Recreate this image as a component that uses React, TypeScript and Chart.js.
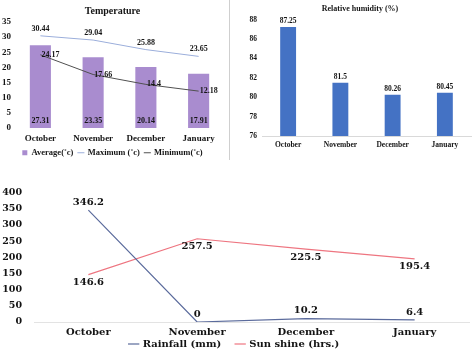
import React, { useEffect, useRef } from "react";
import { Chart, registerables } from "chart.js";
Chart.register(...registerables);

const months = ["October", "November", "December", "January"];
const tempAverage = [27.31, 23.35, 20.14, 17.91];
const tempMaximum = [30.44, 29.04, 25.88, 23.65];
const tempMinimum = [24.17, 17.66, 14.4, 12.18];
const tempTicks = { min: 0, max: 35, step: 5 };
const humidity = [87.25, 81.5, 80.26, 80.45];
const humidityTicks = { min: 76, max: 88, step: 2 };
const rainfall = [346.2, 0, 10.2, 6.4];
const sunshine = [146.6, 257.5, 225.5, 195.4];
const weatherTicks = { min: 0, max: 400, step: 50 };

const SERIF = "'Liberation Serif', 'Times New Roman', serif";
const WIDE = "'DejaVu Serif', serif";
const INK = "#141414";

const valueLabels = {
  id: "valueLabels",
  afterDatasetsDraw(chart: any) {
    const ctx = chart.ctx;
    chart.data.datasets.forEach((ds: any, i: number) => {
      const cfg = ds.valueLabel;
      if (!cfg) return;
      const meta = chart.getDatasetMeta(i);
      ctx.save();
      ctx.font = cfg.font;
      ctx.fillStyle = INK;
      meta.data.forEach((el: any, j: number) => {
        const text = String(ds.data[j]);
        let x = el.x;
        let y = el.y;
        ctx.textAlign = "center";
        ctx.textBaseline = "middle";
        if (cfg.pos === "above") y = el.y - cfg.offset;
        else if (cfg.pos === "below") y = el.y + cfg.offset;
        else if (cfg.pos === "right") {
          ctx.textAlign = "left";
          x = el.x + cfg.offset;
        } else if (cfg.pos === "base") y = el.base - cfg.offset;
        ctx.fillText(text, x, y);
      });
      ctx.restore();
    });
  },
};

function ChartBox({ config, style }: { config: any; style: any }) {
  const ref = useRef<HTMLCanvasElement | null>(null);
  useEffect(() => {
    const c = new Chart(ref.current as HTMLCanvasElement, config);
    return () => c.destroy();
  }, []);
  return (
    <div style={{ position: "absolute", ...style }}>
      <canvas ref={ref} />
    </div>
  );
}

const f = (family: string, size: number) => ({ family, size, weight: "bold" as const });
const noGrid = { display: false, drawTicks: false };
const fixHeight = (h: number) => (s: any) => {
  s.height = h;
};
const fixWidth = (w: number) => (s: any) => {
  s.width = w;
};

const tempConfig: any = {
  type: "bar",
  data: {
    labels: months,
    datasets: [
      {
        type: "bar",
        label: "Average(˚c)",
        data: tempAverage,
        backgroundColor: "#A98CCF",
        order: 1,
        categoryPercentage: 0.5,
        barPercentage: 0.8,
        pointStyle: "rect",
        valueLabel: { pos: "base", offset: 7, font: `bold 8px ${SERIF}` },
      },
      {
        type: "line",
        label: "Maximum (˚c)",
        data: tempMaximum,
        borderColor: "#9BAEDB",
        backgroundColor: "#9BAEDB",
        borderWidth: 1,
        pointRadius: 0,
        pointStyle: "line",
        tension: 0,
        order: 0,
        valueLabel: { pos: "above", offset: 7, font: `bold 8px ${SERIF}` },
      },
      {
        type: "line",
        label: "Minimum(˚c)",
        data: tempMinimum,
        borderColor: "#505050",
        backgroundColor: "#505050",
        borderWidth: 1,
        pointRadius: 0,
        pointStyle: "line",
        tension: 0,
        order: 0,
        valueLabel: { pos: "right", offset: 1, font: `bold 8px ${SERIF}` },
      },
    ],
  },
  options: {
    animation: false,
    responsive: true,
    maintainAspectRatio: false,
    layout: { padding: { left: 0, right: 3, top: 0, bottom: 0 } },
    plugins: {
      title: {
        display: true,
        text: "Temperature",
        font: f(SERIF, 10),
        color: INK,
        padding: { top: 5, bottom: 5 },
      },
      legend: {
        position: "bottom",
        labels: {
          usePointStyle: true,
          boxWidth: 5,
          boxHeight: 5,
          padding: 5,
          font: f(SERIF, 8.5),
          color: INK,
          sort: (a: any, b: any) => a.datasetIndex - b.datasetIndex,
        },
      },
      tooltip: { enabled: false },
    },
    scales: {
      x: {
        grid: noGrid,
        border: { display: false },
        ticks: { font: f(SERIF, 9), color: INK, padding: 5 },
        afterFit: fixHeight(15.5),
      },
      y: {
        min: tempTicks.min,
        max: tempTicks.max,
        grid: noGrid,
        border: { display: false },
        ticks: { stepSize: tempTicks.step, autoSkip: false, font: f(SERIF, 9), color: INK, padding: 3 },
        afterFit: fixWidth(14),
      },
    },
  },
  plugins: [valueLabels],
};

const humidityConfig: any = {
  type: "bar",
  data: {
    labels: months,
    datasets: [
      {
        label: "Relative humidity (%)",
        data: humidity,
        backgroundColor: "#4472C4",
        categoryPercentage: 0.38,
        barPercentage: 0.8,
        valueLabel: { pos: "above", offset: 6, font: `bold 7.5px ${SERIF}` },
      },
    ],
  },
  options: {
    animation: false,
    responsive: true,
    maintainAspectRatio: false,
    layout: { padding: { left: 14, right: 3, top: 0, bottom: 10 } },
    plugins: {
      title: {
        display: true,
        text: "Relative humidity (%)",
        font: f(SERIF, 8),
        color: INK,
        padding: { top: 4, bottom: 6 },
      },
      legend: { display: false },
      tooltip: { enabled: false },
    },
    scales: {
      x: {
        grid: noGrid,
        border: { display: true, color: "#d9d9d9" },
        ticks: { font: f(SERIF, 7.5), color: INK, padding: 5 },
        afterFit: fixHeight(14),
      },
      y: {
        min: humidityTicks.min,
        max: humidityTicks.max,
        grid: noGrid,
        border: { display: false },
        ticks: { stepSize: humidityTicks.step, autoSkip: false, font: f(SERIF, 7.5), color: INK, padding: 5 },
        afterFit: fixWidth(13),
      },
    },
  },
  plugins: [valueLabels],
};

const weatherConfig: any = {
  type: "line",
  data: {
    labels: months,
    datasets: [
      {
        label: "Rainfall (mm)",
        data: rainfall,
        borderColor: "#5B6B9C",
        backgroundColor: "#5B6B9C",
        borderWidth: 1.2,
        pointRadius: 0,
        pointStyle: "line",
        tension: 0,
        valueLabel: { pos: "above", offset: 8, font: `bold 10px ${WIDE}` },
      },
      {
        label: "Sun shine (hrs.)",
        data: sunshine,
        borderColor: "#EE7580",
        backgroundColor: "#EE7580",
        borderWidth: 1.2,
        pointRadius: 0,
        pointStyle: "line",
        tension: 0,
        valueLabel: { pos: "below", offset: 8, font: `bold 10px ${WIDE}` },
      },
    ],
  },
  options: {
    animation: false,
    responsive: true,
    maintainAspectRatio: false,
    layout: { padding: { left: 0, right: 5, top: 6, bottom: 0 } },
    plugins: {
      legend: {
        position: "bottom",
        labels: {
          usePointStyle: true,
          boxWidth: 8,
          boxHeight: 8,
          padding: 1,
          font: f(WIDE, 10),
          color: INK,
          generateLabels: (chart: any) =>
            Chart.defaults.plugins.legend.labels
              .generateLabels(chart)
              .map((item: any, i: number, all: any[]) =>
                i < all.length - 1 ? { ...item, text: item.text + "    " } : item
              ),
        },
      },
      tooltip: { enabled: false },
    },
    scales: {
      x: {
        offset: true,
        grid: noGrid,
        border: { display: true, color: "#e3e3e3" },
        ticks: { font: f(WIDE, 10), color: INK, padding: 4 },
        afterFit: fixHeight(16),
      },
      y: {
        min: weatherTicks.min,
        max: weatherTicks.max,
        grid: noGrid,
        border: { display: false },
        ticks: { stepSize: weatherTicks.step, autoSkip: false, font: f(WIDE, 9.5), color: INK, padding: 12 },
        afterFit: fixWidth(34),
      },
    },
  },
  plugins: [valueLabels],
};

export default function App() {
  return (
    <div
      style={{
        position: "absolute",
        left: 0,
        top: 0,
        width: 474,
        height: 353,
        background: "#fff",
        overflow: "hidden",
      }}
    >
      <ChartBox config={tempConfig} style={{ left: 0, top: 0, width: 228, height: 167 }} />
      <div
        style={{ position: "absolute", left: 229, top: 0, width: 1, height: 160, background: "#cfcfcf" }}
      />
      <ChartBox config={humidityConfig} style={{ left: 235, top: 0, width: 239, height: 160 }} />
      <ChartBox config={weatherConfig} style={{ left: 0, top: 175, width: 474, height: 184 }} />
    </div>
  );
}
